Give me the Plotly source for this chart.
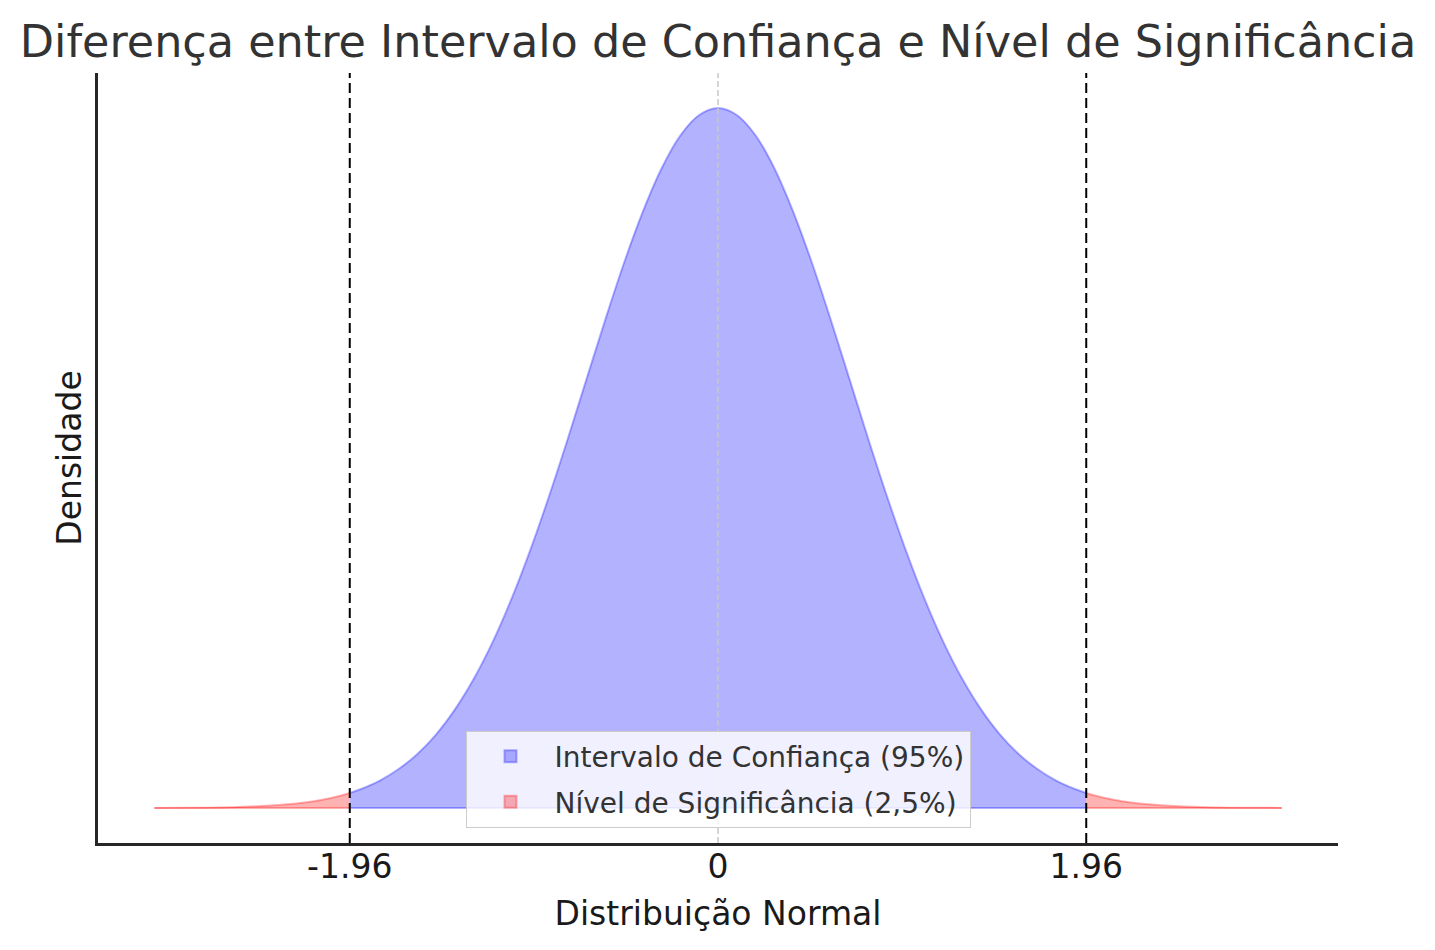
import plotly.graph_objects as go

# ---- data ----
x_left = [-3.0, -2.8, -2.6, -2.4, -2.2, -2.1, -2.0, -1.96]
dens_left = [0.00005, 0.00016, 0.00046, 0.00126, 0.00316, 0.00485, 0.00731, 0.00856]

x_mid = [-1.96, -1.9, -1.8, -1.7, -1.6, -1.5, -1.4, -1.3, -1.2, -1.1, -1.0,
         -0.9, -0.8, -0.7, -0.6, -0.5, -0.4, -0.3, -0.2, -0.1, 0.0,
         0.1, 0.2, 0.3, 0.4, 0.5, 0.6, 0.7, 0.8, 0.9, 1.0,
         1.1, 1.2, 1.3, 1.4, 1.5, 1.6, 1.7, 1.8, 1.9, 1.96]
dens_mid = [0.00856, 0.0108, 0.0156, 0.0222, 0.0308, 0.0420, 0.0562, 0.0736, 0.0945, 0.1190, 0.1468,
            0.1775, 0.2103, 0.2444, 0.2783, 0.3107, 0.3399, 0.3646, 0.3833, 0.3949, 0.3989,
            0.3949, 0.3833, 0.3646, 0.3399, 0.3107, 0.2783, 0.2444, 0.2103, 0.1775, 0.1468,
            0.1190, 0.0945, 0.0736, 0.0562, 0.0420, 0.0308, 0.0222, 0.0156, 0.0108, 0.00856]

x_right = [1.96, 2.0, 2.1, 2.2, 2.4, 2.6, 2.8, 3.0]
dens_right = [0.00856, 0.00731, 0.00485, 0.00316, 0.00126, 0.00046, 0.00016, 0.00005]

critical = [-1.96, 1.96]
center = 0.0
tick_vals = [-1.96, 0, 1.96]
tick_text = ["-1.96", "0", "1.96"]

title = "Diferença entre Intervalo de Confiança e Nível de Significância"
label_ci = "Intervalo de Confiança (95%)"
label_sig = "Nível de Significância (2,5%)"

FONT = "DejaVu Sans"
BLUE = "rgba(0,0,255,0.3)"
RED = "rgba(255,0,0,0.3)"

fig = go.Figure()

def area(xs, ys, color):
    fig.add_trace(go.Scatter(
        x=xs, y=ys, mode="lines", line=dict(color=color, width=2, shape="spline"),
        fill="tozeroy", fillcolor=color, showlegend=False, hoverinfo="skip"))
    # bottom edge of the filled polygon
    fig.add_trace(go.Scatter(
        x=[xs[0], xs[-1]], y=[0, 0], mode="lines", line=dict(color=color, width=2),
        showlegend=False, hoverinfo="skip"))

area(x_mid, dens_mid, BLUE)
area(x_left, dens_left, RED)
area(x_right, dens_right, RED)

# legend entries (patch-like symbols)
for name, color, grp in [(label_ci, BLUE, "ci"), (label_sig, RED, "sig")]:
    fig.add_trace(go.Bar(x=[None], y=[None], name=name, legendgroup=grp,
                         marker=dict(color=color, line=dict(color=color, width=2)),
                         showlegend=True, hoverinfo="skip"))

for c in critical:
    fig.add_shape(type="line", x0=c, x1=c, xref="x", y0=0, y1=1, yref="paper",
                  line=dict(color="black", width=2, dash="10px,5px"), layer="above")
fig.add_shape(type="line", x0=center, x1=center, xref="x", y0=0, y1=1, yref="paper",
              line=dict(color="#c8c8c8", width=1.5, dash="6px,3px"), layer="above")

fig.update_layout(
    width=1435, height=950,
    margin=dict(l=98, r=97, t=73, b=107),
    paper_bgcolor="white", plot_bgcolor="white",
    font=dict(family=FONT, color="#262626"),
    title=dict(text=title, x=0.5, xref="paper", xanchor="center",
               y=1 - 41 / 950, yref="container", yanchor="middle",
               font=dict(family=FONT, size=44.5, color="#333333")),
    showlegend=True,
    legend=dict(x=0.5, xanchor="center", y=0.02, yanchor="bottom",
                bgcolor="rgba(255,255,255,0.8)", bordercolor="#cccccc", borderwidth=1,
                font=dict(family=FONT, size=28, color="#333333"),
                tracegroupgap=6, itemwidth=78),
)

fig.update_xaxes(range=[-3.3, 3.3], tickvals=tick_vals, ticktext=tick_text,
                 showgrid=False, zeroline=False, showline=True, linecolor="#262626",
                 linewidth=2.5, ticks="", ticklabelstandoff=-7,
                 tickfont=dict(family=FONT, size=33, color="#1a1a1a"),
                 title=dict(text="Distribuição Normal", font=dict(family=FONT, size=33, color="#1a1a1a"),
                            standoff=17))
fig.update_yaxes(range=[-0.01995, 0.41885], showticklabels=False, ticks="",
                 showgrid=False, zeroline=False, showline=True, linecolor="#262626",
                 linewidth=2.5,
                 title=dict(text="Densidade", font=dict(family=FONT, size=33, color="#1a1a1a"),
                            standoff=4))

fig.write_html("out.html")
